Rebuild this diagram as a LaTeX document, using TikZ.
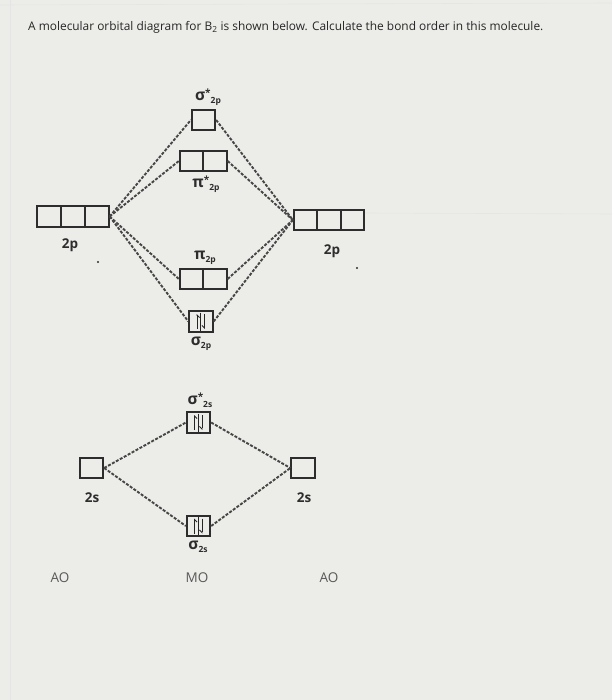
\documentclass[tikz,border=0pt]{standalone}
\usepackage{fontspec}
\setmainfont{Open Sans}
\usetikzlibrary{arrows.meta,calc}
\definecolor{bg}{RGB}{236,236,233}
\definecolor{ink}{RGB}{45,45,45}
\definecolor{dash}{RGB}{70,70,70}
\tikzset{
  orb/.style={draw=ink, line width=1.8pt, minimum width=23.5pt, minimum height=20.5pt, inner sep=0pt},
  conn/.style={draw=dash, line width=1.9pt, dash pattern=on 3pt off 1.5pt},
  lbl/.style={text=ink, font=\fontsize{13.5}{14}\selectfont, inner sep=0pt},
  elec/.style={draw=black!85, line width=0.9pt},
  faint/.style={draw=black!10, line width=0.6pt}
}
\newcommand{\orbsub}[1]{\raisebox{-3pt}{\fontsize{8.5}{9}\selectfont\bfseries #1}}
\newcommand{\orbsup}{\raisebox{3.5pt}{\fontsize{10}{10}\selectfont\bfseries *}}
\newcommand{\gk}[1]{{\fontsize{15.5}{16}\selectfont\bfseries #1}}
\begin{document}
\begin{tikzpicture}[x=1pt,y=-1pt]
\fill[bg] (0,0) rectangle (612,700);
\useasboundingbox (0,0) rectangle (612,700);
% faint screen lines
\draw[faint] (0,5) -- (612,3);
\draw[faint] (10,0) -- (10,700);
\draw[faint] (364,213) -- (612,214);

% title
\node[anchor=base west, inner sep=0pt, font=\fontsize{11.9}{13}\selectfont, text=black!85] (title) at (28,31)
  {A molecular orbital diagram for B\textsubscript{2} is shown below. Calculate the bond order in this molecule.};

% atomic 2p left
\node[orb] (lpa) at (49,216.5) {};
\node[orb] (lpb) at (73,216.5) {};
\node[orb] (lpc) at (97,216.5) {};
% atomic 2p right
\node[orb] (rpa) at (305.5,220) {};
\node[orb] (rpb) at (329,220) {};
\node[orb] (rpc) at (352.5,220) {};
% sigma*2p
\node[orb] (sps) at (203.5,120) {};
% pi*2p
\node[orb] (ppsa) at (191.5,161) {};
\node[orb] (ppsb) at (215,161) {};
% pi2p
\node[orb] (ppa) at (191.5,279) {};
\node[orb] (ppb) at (215,279) {};
% sigma2p
\node[orb] (sp) at (201,321.5) {};
% sigma*2s
\node[orb] (sss) at (198.5,422.5) {};
% 2s atomic
\node[orb] (ls) at (91.5,468) {};
\node[orb] (rs) at (303,468) {};
% sigma2s
\node[orb] (ss) at (198.5,526) {};

% connectors 2p
\draw[conn] (lpc.east) -- (sps.west);
\draw[conn] (lpc.east) -- (ppsa.west);
\draw[conn] (sps.east) -- (rpa.west);
\draw[conn] (ppsb.east) -- (rpa.west);
\draw[conn] (lpc.east) -- (ppa.west);
\draw[conn] (lpc.east) -- (sp.west);
\draw[conn] (ppb.east) -- (rpa.west);
\draw[conn] (sp.east) -- (rpa.west);
% connectors 2s
\draw[conn] (ls.east) -- (sss.west);
\draw[conn] (ls.east) -- (ss.west);
\draw[conn] (sss.east) -- (rs.west);
\draw[conn] (ss.east) -- (rs.west);

% electrons
\foreach \b in {sp,sss,ss}{
  \draw[elec,-{Straight Barb[harpoon,swap,length=2.5pt]}] ($(\b.center)+(-4,7.5)$) -- ($(\b.center)+(-4,-7.5)$);
  \draw[elec] ($(\b.center)+(-0.5,-9)$) -- ($(\b.center)+(-0.5,9)$);
  \draw[elec,-{Straight Barb[harpoon,swap,length=2.5pt]}] ($(\b.center)+(3.5,-7.5)$) -- ($(\b.center)+(3.5,7.5)$);
}

% labels
\node[lbl] (lsps) at (208,97) {\gk{σ}\orbsup\orbsub{2p}};
\node[lbl] (lppst) at (206,184) {\gk{π}\orbsup\orbsub{2p}};
\node[lbl] (lpp) at (205,258) {\gk{π}\orbsub{2p}};
\node[lbl] (lsp) at (201,344) {\gk{σ}\orbsub{2p}};
\node[lbl] (lsss) at (200,400) {\gk{σ}\orbsup\orbsub{2s}};
\node[lbl] (lss) at (198,547) {\gk{σ}\orbsub{2s}};
\node[lbl,font=\fontsize{13.5}{14}\selectfont\bfseries] (l2pL) at (70,245) {2p};
\node[lbl,font=\fontsize{13.5}{14}\selectfont\bfseries] (l2pR) at (332,251) {2p};
\node[lbl,font=\fontsize{13.5}{14}\selectfont\bfseries] (l2sL) at (92,498) {2s};
\node[lbl,font=\fontsize{13.5}{14}\selectfont\bfseries] (l2sR) at (304,498) {2s};
\node[lbl,text=black!65] (aoL) at (60,578) {AO};
\node[lbl,text=black!65] (mo) at (197,578) {MO};
\node[lbl,text=black!65] (aoR) at (329,578) {AO};
% stray dots
\fill[ink] (98,262) circle (1.2pt);
\fill[ink] (357,268) circle (1.2pt);
\end{tikzpicture}
\end{document}
